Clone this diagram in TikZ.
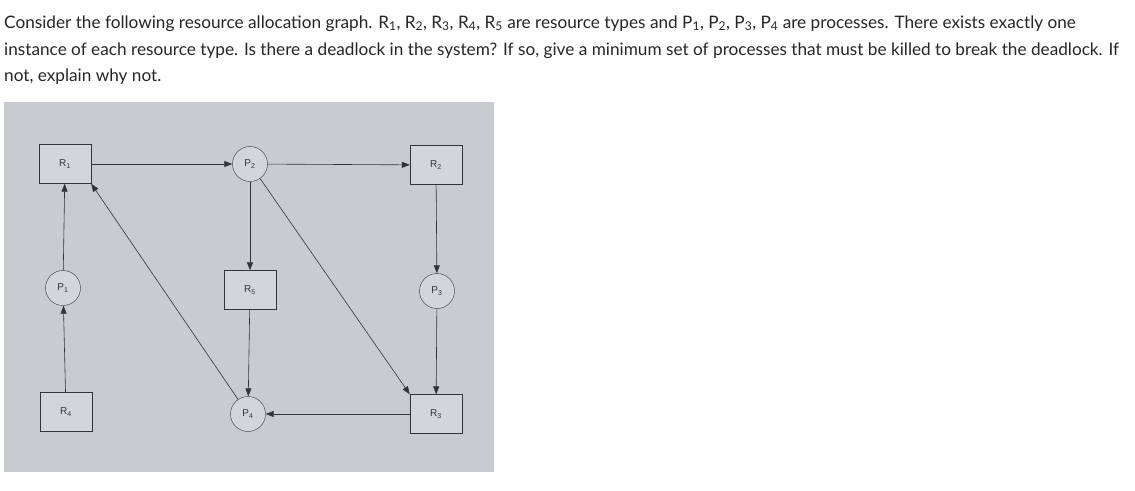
\documentclass[tikz,border=0pt]{standalone}
\usepackage{fontspec}
\setmainfont{Lato}
\newfontfamily\diagfont{Liberation Sans}
\usetikzlibrary{arrows.meta}
\definecolor{photo}{RGB}{200,203,208}
\definecolor{ln}{RGB}{50,52,58}
\begin{document}
\begin{tikzpicture}[x=1pt,y=-1pt,
  rbox/.style={draw=ln,fill=photo!80!white,minimum width=52pt,minimum height=39pt,font=\diagfont\fontsize{10}{12}\selectfont,text=ln},
  pcirc/.style={draw=ln,fill=photo!80!white,circle,minimum size=35pt,inner sep=0pt,font=\diagfont\fontsize{10}{12}\selectfont,text=ln},
  edge/.style={draw=ln,line width=0.6pt,-{Triangle[length=8pt,width=6pt]}},
  qtext/.style={anchor=base west,inner sep=0pt,font=\fontsize{17.2}{20}\selectfont,text=black!85}]
\useasboundingbox (0,0) rectangle (1135,490);
\fill[white] (0,0) rectangle (1135,490);
\node[qtext] (t1) at (4,28) {Consider the following resource allocation graph. R\textsubscript{1}, R\textsubscript{2}, R\textsubscript{3}, R\textsubscript{4}, R\textsubscript{5} are resource types and P\textsubscript{1}, P\textsubscript{2}, P\textsubscript{3}, P\textsubscript{4} are processes. There exists exactly one};
\node[qtext] (t2) at (4,55) {instance of each resource type. Is there a deadlock in the system? If so, give a minimum set of processes that must be killed to break the deadlock. If};
\node[qtext] (t3) at (4,81) {not, explain why not.};
\fill[photo] (4,102) rectangle (494,472);
\node[rbox] (R1) at (65,164) {R\textsubscript{1}};
\node[pcirc] (P2) at (250,164) {P\textsubscript{2}};
\node[rbox] (R2) at (436,165) {R\textsubscript{2}};
\node[pcirc] (P1) at (63,288) {P\textsubscript{1}};
\node[rbox] (R5) at (250,290) {R\textsubscript{5}};
\node[pcirc] (P3) at (437,291) {P\textsubscript{3}};
\node[rbox] (R4) at (66,412) {R\textsubscript{4}};
\node[pcirc] (P4) at (248,414) {P\textsubscript{4}};
\node[rbox] (R3) at (436,414) {R\textsubscript{3}};
\draw[edge] (R1) -- (P2);
\draw[edge] (P2) -- (R2);
\draw[edge] (R2) -- (P3);
\draw[edge] (P2) -- (R5);
\draw[edge] (R5) -- (P4);
\draw[edge] (P3) -- (R3);
\draw[edge] (R3) -- (P4);
\draw[edge] (P1) -- (R1);
\draw[edge] (R4) -- (P1);
\draw[edge] (P4) -- (R1.south east);
\draw[edge] (P2) -- (R3.north west);
\end{tikzpicture}
\end{document}
